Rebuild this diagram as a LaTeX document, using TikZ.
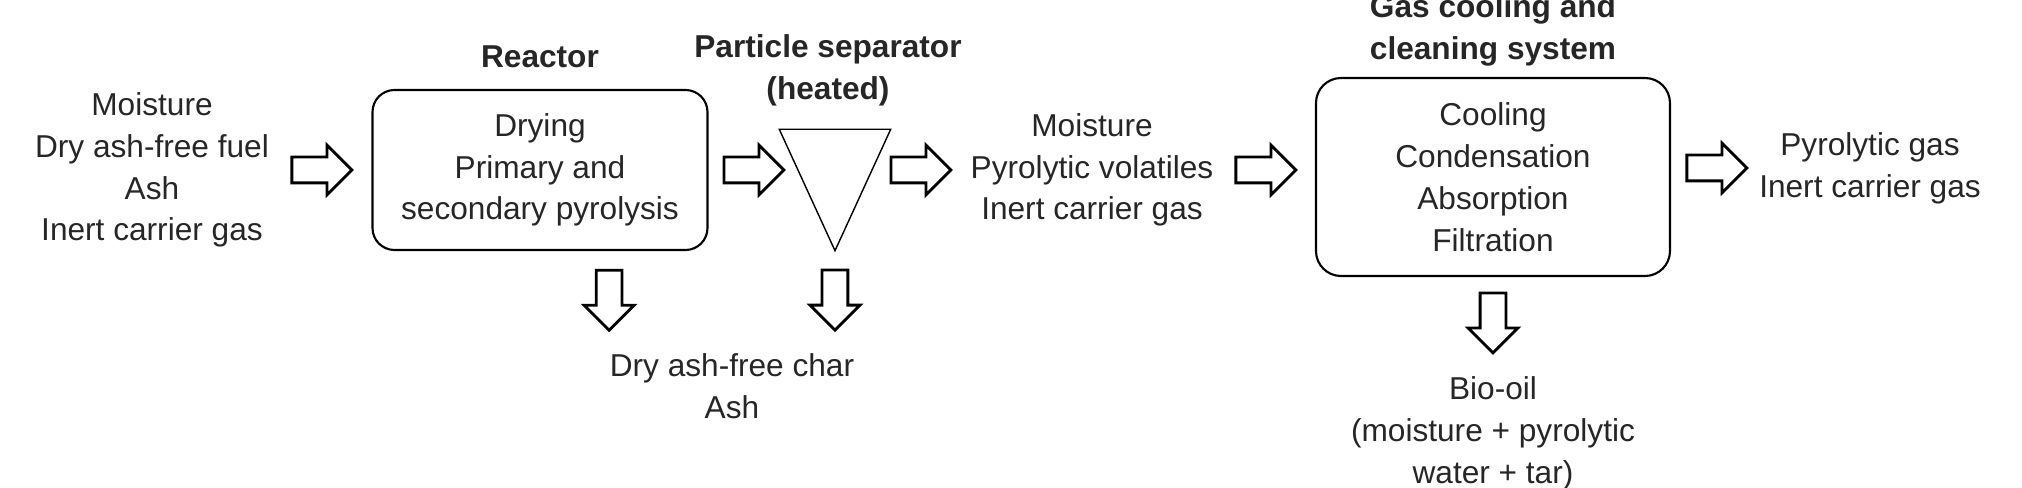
\documentclass[tikz,border=0pt]{standalone}
\usepackage{fontspec}
\setmainfont{Liberation Sans}
\usetikzlibrary{shapes.arrows}

\tikzstyle{block} = [draw, semithick, rectangle, rounded corners=2.2mm, align=center, inner sep=0]
\tikzstyle{stream} = [align=center, inner sep=0]
\tikzstyle{heading} = [align=center, inner sep=0, font=\fontsize{9}{11.9}\selectfont\bfseries]
\tikzstyle{flow} = [draw, thick, single arrow, single arrow head extend=1.2mm, single arrow head indent=0pt, minimum height=6mm, minimum width=4.7mm, inner xsep=0, inner ysep=1.15mm]

\begin{document}
\begin{tikzpicture}[node distance=30mm, font=\fontsize{9}{11.9}\selectfont, text=black!85]
	\useasboundingbox (-54mm,-31.8mm) rectangle (148.2mm,17mm);

	\node [block, minimum width=33.5mm, minimum height=16mm] (reactor) {Drying\\Primary and\\secondary pyrolysis};
	\node [heading, above of=reactor, node distance=11.3mm] (reactortitle) {Reactor};
	\node [stream, left of=reactor, node distance=38.8mm] (feed) {Moisture\\Dry ash-free fuel\\Ash\\Inert carrier gas};

	\node [minimum width=11mm, minimum height=12mm, inner sep=0, right of=reactor, node distance=29.5mm, yshift=-2mm] (sep) {};
	\draw [thin] (sep.north west) -- (sep.north east) -- (sep.south) -- cycle;
	\node [heading, above of=sep, node distance=12mm, xshift=-0.7mm] (septitle) {Particle separator\\(heated)};

	\node [stream, right of=reactor, node distance=55.2mm] (vol) {Moisture\\Pyrolytic volatiles\\Inert carrier gas};
	\node [stream, below of=reactor, node distance=21.6mm, xshift=19.2mm] (char) {Dry ash-free char\\Ash};

	\node [block, minimum width=35.4mm, minimum height=19.8mm, rounded corners=2.5mm, right of=vol, node distance=40.1mm, yshift=-0.7mm] (cool) {Cooling\\Condensation\\Absorption\\Filtration};
	\node [heading, above of=cool, node distance=14.7mm] (cooltitle) {Gas cooling and\\cleaning system};
	\node [stream, right of=cool, node distance=37.7mm, yshift=0.9mm] (gas) {Pyrolytic gas\\Inert carrier gas};
	\node [stream, below of=cool, node distance=25.6mm] (oil) {Bio-oil\\(moisture + pyrolytic\\water + tar)};

	\path (feed.east) -- node [flow, pos=0.45] (in) {} (reactor.west);
	\path (reactor.east) -- node [flow, pos=0.55] (tosep) {} (reactor.east -| sep.west);
	\path (reactor.east -| sep.east) -- node [flow, pos=0.3] (tovol) {} (vol.west);
	\path (vol.east) -- node [flow, pos=0.45] (tocool) {} (vol.east -| cool.west);
	\path (gas.west -| cool.east) -- node [flow, pos=0.45] (togas) {} (gas.west);

	\path (reactor.south -| char.west) -- node [flow, rotate=-90, pos=0.42] (charout) {} (char.north west);
	\path (sep.south) -- node [flow, rotate=-90, pos=0.42] (ashout) {} (sep.south |- char.north);
	\path (cool.south) -- node [flow, rotate=-90, pos=0.4] (oilout) {} (oil.north);
\end{tikzpicture}
\end{document}
